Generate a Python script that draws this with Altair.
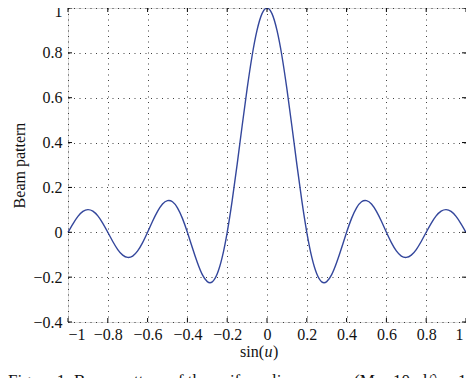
import altair as alt
import pandas as pd

# sin(u) sample positions (right half; curve is symmetric) and beam pattern values
x_half = [0.0, 0.025, 0.05, 0.075, 0.1, 0.125, 0.15, 0.175, 0.2, 0.225, 0.25, 0.275, 0.3,
          0.325, 0.35, 0.375, 0.4, 0.425, 0.45, 0.475, 0.5, 0.525, 0.55, 0.575, 0.6,
          0.625, 0.65, 0.675, 0.7, 0.725, 0.75, 0.775, 0.8, 0.825, 0.85, 0.875, 0.9,
          0.925, 0.95, 0.975, 1.0]
b_half = [1.0, 0.975, 0.901, 0.786, 0.639, 0.474, 0.303, 0.141, 0.0, -0.111, -0.185, -0.221, -0.220,
          -0.189, -0.135, -0.069, 0.0, 0.062, 0.109, 0.136, 0.141, 0.126, 0.093, 0.049, 0.0,
          -0.046, -0.083, -0.106, -0.112, -0.102, -0.077, -0.041, 0.0, 0.040, 0.073, 0.094, 0.101,
          0.093, 0.071, 0.038, 0.0]

x_vals = [-v for v in x_half[:0:-1]] + x_half
b_vals = b_half[:0:-1] + b_half

x_ticks = [-1, -0.8, -0.6, -0.4, -0.2, 0, 0.2, 0.4, 0.6, 0.8, 1]
y_ticks = [-0.4, -0.2, 0, 0.2, 0.4, 0.6, 0.8, 1]
x_domain = [-1, 1]
y_domain = [-0.4, 1]

x_title_parts = ["sin(", "u", ")"]
y_title = "Beam pattern"
caption = "Figure 1: Beam pattern of the uniform linear array (M = 10, d/λ = 1/2)."

W, H = 398, 314
FONT = "Liberation Serif"

df = pd.DataFrame({"x": x_vals, "y": b_vals})
dfx = pd.DataFrame({"x": x_ticks})
dfy = pd.DataFrame({"y": y_ticks})

xs = alt.Scale(domain=x_domain, nice=False, zero=False)
ys = alt.Scale(domain=y_domain, nice=False, zero=False)

grid_kw = dict(grid=True, gridColor="#000000", gridOpacity=0.75, gridDash=[1, 4.5], gridWidth=1,
               ticks=False, domain=False, labelFont=FONT, labelFontSize=16, labelColor="#111",
               format="~g", labelOverlap=False, labelBound=False)

x_axis = alt.Axis(values=x_ticks, title=None, labelPadding=4,
                  labelOffset={"expr": "datum.value == 1 ? -3 : 0"}, **grid_kw)
y_axis = alt.Axis(values=y_ticks, title=y_title, titleFont=FONT, titleFontSize=16,
                  titleFontWeight="normal", titleColor="#111", titlePadding=5, labelPadding=6,
                  labelOffset={"expr": "datum.value == 1 ? 3 : 0"}, **grid_kw)

line = alt.Chart(df).mark_line(color="#34479c", strokeWidth=1.4, interpolate="natural").encode(
    x=alt.X("x:Q", scale=xs, axis=x_axis),
    y=alt.Y("y:Q", scale=ys, axis=y_axis),
)

tick_style = dict(color="#000", strokeWidth=1)
xt_top = alt.Chart(dfx).mark_rule(**tick_style).encode(
    x=alt.X("x:Q", scale=xs, axis=x_axis), y=alt.value(0), y2=alt.value(4))
xt_bot = alt.Chart(dfx).mark_rule(**tick_style).encode(
    x=alt.X("x:Q", scale=xs, axis=x_axis), y=alt.value(H), y2=alt.value(H - 4))
yt_left = alt.Chart(dfy).mark_rule(**tick_style).encode(
    y=alt.Y("y:Q", scale=ys, axis=y_axis), x=alt.value(0), x2=alt.value(4))
yt_right = alt.Chart(dfy).mark_rule(**tick_style).encode(
    y=alt.Y("y:Q", scale=ys, axis=y_axis), x=alt.value(W), x2=alt.value(W - 4))

t1 = alt.Chart(pd.DataFrame({"t": [x_title_parts[0]]})).mark_text(
    font=FONT, fontSize=16, align="right", baseline="alphabetic", color="#111").encode(
    text="t:N", x=alt.value(196), y=alt.value(349))
t2 = alt.Chart(pd.DataFrame({"t": [x_title_parts[1]]})).mark_text(
    font=FONT, fontSize=16, fontStyle="italic", align="left", baseline="alphabetic", color="#111").encode(
    text="t:N", x=alt.value(196.5), y=alt.value(349))
t3 = alt.Chart(pd.DataFrame({"t": [x_title_parts[2]]})).mark_text(
    font=FONT, fontSize=16, align="left", baseline="alphabetic", color="#111").encode(
    text="t:N", x=alt.value(205), y=alt.value(349))

cap = alt.Chart(pd.DataFrame({"t": [caption]})).mark_text(
    font=FONT, fontSize=17, align="left", baseline="top", color="#111").encode(
    text="t:N", x=alt.value(-60), y=alt.value(365))

chart = alt.layer(line, xt_top, xt_bot, yt_left, yt_right, t1, t2, t3, cap).properties(
    width=W, height=H,
    autosize=alt.AutoSizeParams(type="none"),
    padding={"left": 60, "top": 0, "right": 0, "bottom": 56},
).configure_view(stroke="#000", strokeWidth=1.2).configure_axis(
    labelOverlap=False).configure(background="white")

chart.save("out.html", embed_options={"renderer": "svg", "actions": False})
